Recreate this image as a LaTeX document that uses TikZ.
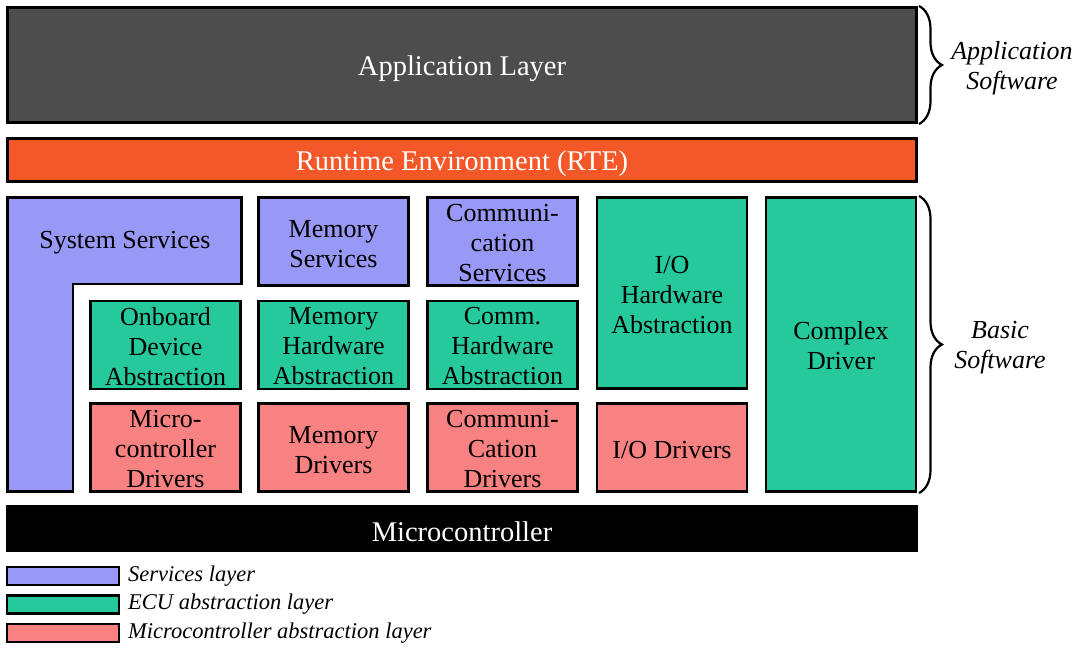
\documentclass[tikz,border=0pt]{standalone}
\usepackage{fontspec}
\setmainfont{Liberation Serif}
\usetikzlibrary{decorations.pathreplacing}
\definecolor{appgray}{HTML}{4D4D4D}
\definecolor{rteorange}{HTML}{F45828}
\definecolor{svc}{HTML}{9898F6}
\definecolor{ecu}{HTML}{25C99B}
\definecolor{mcal}{HTML}{F88181}
\tikzset{
  box/.style={draw=black, line width=2.7pt, inner sep=0pt, rectangle},
  lab/.style={inner sep=0pt, align=center, font=\fontsize{26}{30}\selectfont},
  barlab/.style={inner sep=0pt, align=center, font=\fontsize{28.5}{32}\selectfont, text=white},
  legbox/.style={draw=black, line width=2.7pt, inner sep=0pt, rectangle,
    minimum width=112pt, minimum height=18pt},
  legtext/.style={anchor=west, inner sep=0pt, font=\fontsize{22.5}{26}\selectfont\itshape},
  bracelab/.style={align=center, inner sep=0pt, font=\fontsize{26}{30}\selectfont\itshape},
  bracestyle/.style={draw=black, line width=2.2pt, decorate, decoration={brace, amplitude=23pt}}
}
\begin{document}
\begin{tikzpicture}[x=1pt, y=-1pt]
\useasboundingbox (0,0) rectangle (1080,651);
\fill[white] (0,0) rectangle (1080,651);
% top layers
\node[box, fill=appgray, minimum width=909pt, minimum height=115pt] (app) at (462,65) {};
\node[barlab] (appt) at ([yshift=-4pt]app.center) {Application Layer};
\node[box, fill=rteorange, minimum width=909pt, minimum height=43pt] (rte) at (462,160) {};
\node[barlab] (rtet) at ([yshift=-4pt]rte.center) {Runtime Environment (RTE)};
% system services L shape
\draw[fill=svc, line width=2.7pt] (7.5,197.5) -- (241.5,197.5) -- (241.5,284) -- (73,284) -- (73,491.5) -- (7.5,491.5) -- cycle;
\node[lab] (sys) at (125,243) {System Services};
% column 2
\node[box, fill=ecu, minimum width=150pt, minimum height=88pt] (onb) at (165.5,345) {};
\node[lab] (onbt) at ([yshift=-1.5pt]onb.center) {Onboard\\Device\\Abstraction};
\node[box, fill=mcal, minimum width=150pt, minimum height=88pt] (mcd) at (165.5,447.5) {};
\node[lab] (mcdt) at ([yshift=-2pt]mcd.center) {Micro-\\controller\\Drivers};
% column 3
\node[box, fill=svc, minimum width=150pt, minimum height=88pt] (mems) at (333.5,241.5) {};
\node[lab] (memst) at ([yshift=-3pt]mems.center) {Memory\\Services};
\node[box, fill=ecu, minimum width=150pt, minimum height=88pt] (memh) at (333.5,345) {};
\node[lab] (memht) at ([yshift=-1.5pt]memh.center) {Memory\\Hardware\\Abstraction};
\node[box, fill=mcal, minimum width=150pt, minimum height=88pt] (memd) at (333.5,447.5) {};
\node[lab] (memdt) at ([yshift=-3pt]memd.center) {Memory\\Drivers};
% column 4
\node[box, fill=svc, minimum width=150pt, minimum height=88pt] (coms) at (502.5,241.5) {};
\node[lab] (comst) at ([yshift=-2pt]coms.center) {Communi-\\cation\\Services};
\node[box, fill=ecu, minimum width=150pt, minimum height=88pt] (comh) at (502.5,345) {};
\node[lab] (comht) at ([yshift=-1.5pt]comh.center) {Comm.\\Hardware\\Abstraction};
\node[box, fill=mcal, minimum width=150pt, minimum height=88pt] (comd) at (502.5,447.5) {};
\node[lab] (comdt) at ([yshift=-2pt]comd.center) {Communi-\\Cation\\Drivers};
% column 5
\node[box, fill=ecu, minimum width=150pt, minimum height=191pt] (ioh) at (672,293) {};
\node[lab] (ioht) at ([yshift=-2pt]ioh.center) {I/O\\Hardware\\Abstraction};
\node[box, fill=mcal, minimum width=150pt, minimum height=88pt] (iod) at (672,447.5) {};
\node[lab] (iodt) at ([yshift=-3pt]iod.center) {I/O Drivers};
% column 6
\node[box, fill=ecu, minimum width=150pt, minimum height=294pt] (cdd) at (841,344.5) {};
\node[lab] (cddt) at ([yshift=-1.5pt]cdd.center) {Complex\\Driver};
% microcontroller
\node[box, fill=black, minimum width=909pt, minimum height=44pt] (mcu) at (462,528.5) {};
\node[barlab] (mcut) at ([yshift=-3pt]mcu.center) {Microcontroller};
% braces
\coordinate (b1s) at (919,6);
\coordinate (b1e) at (919,124);
\coordinate (b2s) at (919,196);
\coordinate (b2e) at (919,493);
\draw[bracestyle] (b1s) -- (b1e);
\draw[bracestyle] (b2s) -- (b2e);
\node[bracelab] (appsw) at (1012,68) {Application\\Software};
\node[bracelab] (bsw) at (1000,348) {Basic\\Software};
% legend
\node[legbox, fill=svc] (l1) at (63,576) {};
\node[legbox, fill=ecu] (l2) at (63,604.5) {};
\node[legbox, fill=mcal] (l3) at (63,633) {};
\node[legtext] (t1) at (128,576) {Services layer};
\node[legtext] (t2) at (128,604.5) {ECU abstraction layer};
\node[legtext] (t3) at (128,633) {Microcontroller abstraction layer};
\end{tikzpicture}
\end{document}
